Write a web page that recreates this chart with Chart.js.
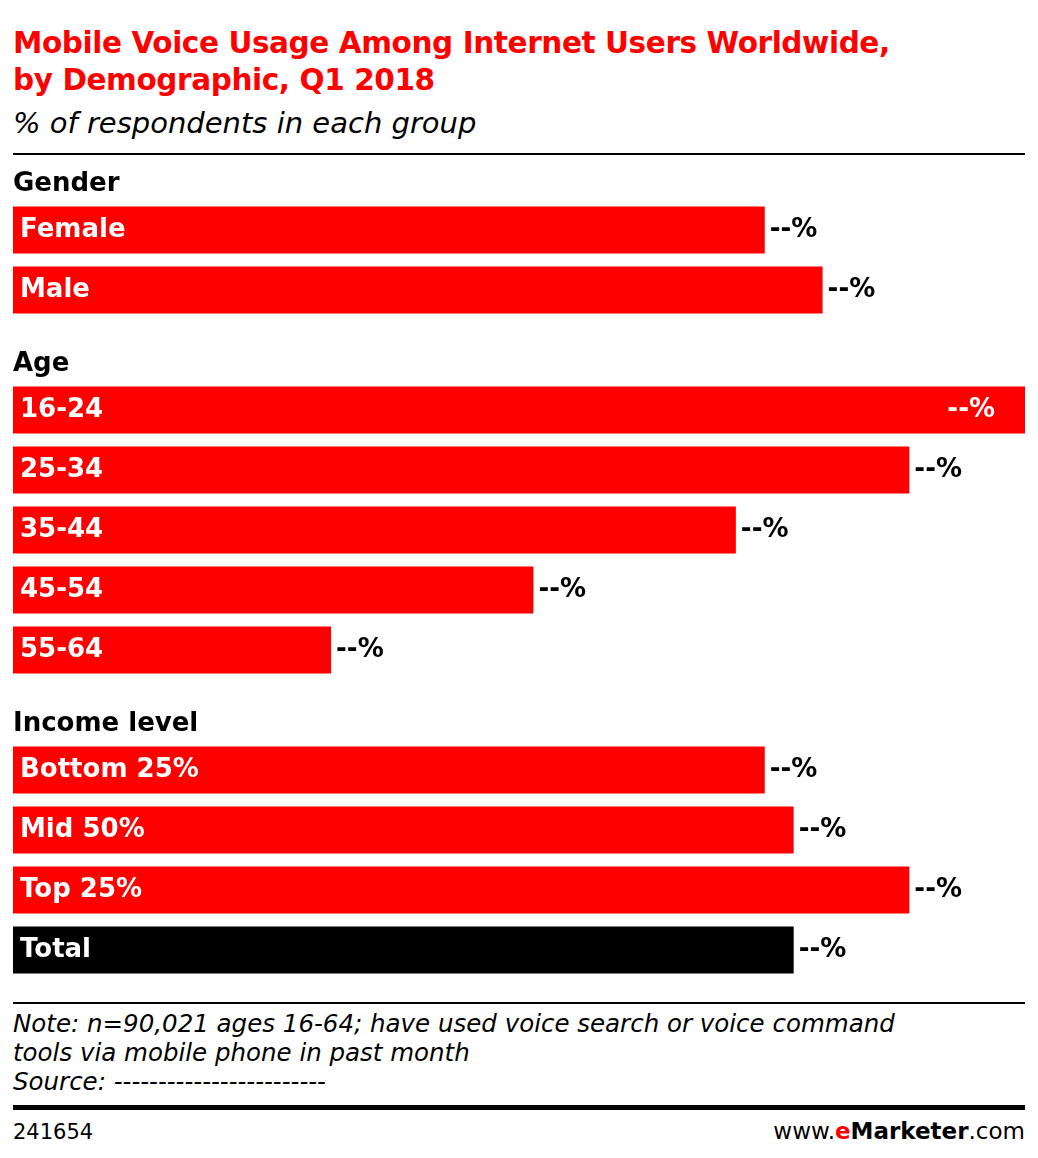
<!DOCTYPE html>
<html><head><meta charset="utf-8">
<script src="https://cdn.jsdelivr.net/npm/chart.js@4"></script>
<style>
body{margin:0;width:1038px;height:1158px;background:#fff;font-family:"DejaVu Sans",sans-serif;position:relative;overflow:hidden}
.abs{position:absolute}
#title{left:13px;top:25px;color:#f00;font-weight:bold;font-size:29.5px;line-height:37px;letter-spacing:-0.4px;white-space:nowrap}
#sub{left:13px;top:106px;font-style:italic;font-size:29px}
.rule{left:13px;width:1012px;background:#000}
#note{left:13px;top:1009px;font-style:italic;font-size:24.5px;line-height:29px;white-space:nowrap}
#wrap{left:13px;top:140px;width:1012px;height:840px}
</style></head><body>
<div id="title" class="abs">Mobile Voice Usage Among Internet Users Worldwide,<br>by Demographic, Q1 2018</div>
<div id="sub" class="abs">% of respondents in each group</div>
<div class="abs rule" style="top:153px;height:2px"></div>
<div id="wrap" class="abs"><canvas id="c"></canvas></div>
<div class="abs rule" style="top:1002px;height:2px"></div>
<div id="note" class="abs">Note: n=90,021 ages 16-64; have used voice search or voice command<br>tools via mobile phone in past month<br>Source: ------------------------</div>
<div class="abs rule" style="top:1105px;height:5px"></div>
<div class="abs" style="left:13px;top:1120px;font-size:21px">241654</div>
<div class="abs" style="right:13px;top:1118px;font-size:23px">www.<b style="color:#f00">e</b><b>Marketer</b>.com</div>
<script>
var labels = ["Gender","Female","Male","Age","16-24","25-34","35-44","45-54","55-64","Income level","Bottom 25%","Mid 50%","Top 25%","Total"];
var headers = [true,false,false,true,false,false,false,false,false,true,false,false,false,false];
var values = [null,26,28,null,35,31,25,18,11,null,26,27,31,27];
var valueText = ["","--%","--%","","--%","--%","--%","--%","--%","","--%","--%","--%","--%"];

var labelPlugin = {
  id: "labels",
  afterDatasetsDraw: function(chart) {
    var ctx = chart.ctx, meta = chart.getDatasetMeta(0), x0 = chart.chartArea.left;
    ctx.save();
    ctx.textBaseline = "middle";
    ctx.font = "bold 26px 'DejaVu Sans', sans-serif";
    labels.forEach(function(l, i) {
      var el = meta.data[i];
      if (headers[i]) {
        ctx.fillStyle = "#000"; ctx.textAlign = "left";
        ctx.fillText(l, x0, el.y + 14);
        return;
      }
      ctx.fillStyle = "#fff"; ctx.textAlign = "left";
      ctx.fillText(l, x0 + 7, el.y);
      var inside = el.x > chart.chartArea.right - 60;
      ctx.fillStyle = inside ? "#fff" : "#000";
      ctx.textAlign = inside ? "right" : "left";
      ctx.fillText(valueText[i], inside ? el.x - 30 : el.x + 5, el.y);
    });
    ctx.restore();
  }
};

new Chart(document.getElementById("c"), {
  type: "bar",
  data: { labels: labels, datasets: [{
    data: values,
    backgroundColor: labels.map(function(l){ return l === "Total" ? "#000" : "#f00"; }),
    barPercentage: 0.78, categoryPercentage: 1
  }]},
  options: {
    indexAxis: "y", responsive: true, maintainAspectRatio: false, animation: false,
    layout: { padding: 0 },
    plugins: { legend: { display: false }, tooltip: { enabled: false } },
    scales: {
      x: { display: false, min: 0, max: 35 },
      y: { display: false }
    }
  },
  plugins: [labelPlugin]
});
</script>
</body></html>
